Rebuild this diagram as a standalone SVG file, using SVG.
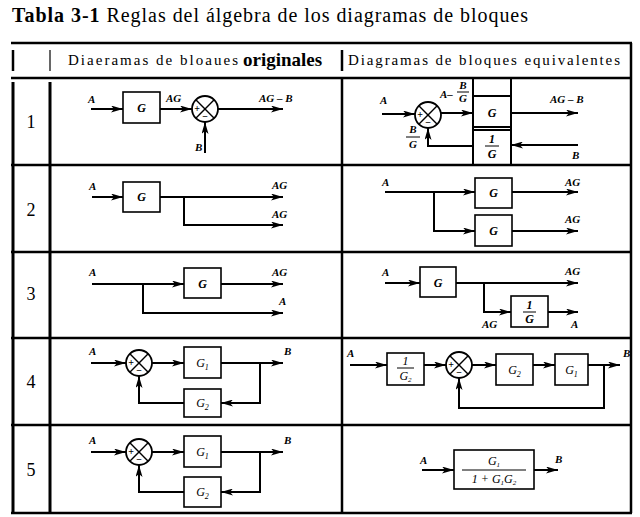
<svg xmlns="http://www.w3.org/2000/svg" xmlns:xlink="http://www.w3.org/1999/xlink" width="640" height="517" viewBox="0 0 640 517">
<style>
.t{font-family:"Liberation Serif","Times New Roman",serif;fill:#000}
.lb{font-family:"Liberation Serif",serif;font-style:italic;font-weight:bold;font-size:11px;fill:#000}
.bx{font-family:"Liberation Serif",serif;font-style:italic;font-size:12px;fill:#000;text-anchor:middle}
.num{font-family:"Liberation Serif",serif;font-size:18px;fill:#000;text-anchor:middle}
.w{stroke:#000;stroke-width:2;fill:none}
.a{stroke:#000;stroke-width:2;fill:none;marker-end:url(#ar)}
.b{stroke:#000;stroke-width:1.6;fill:#fff}
.g{stroke:#000;stroke-width:2.5;fill:none}
.thin{stroke:#000;stroke-width:1.2;fill:none}
</style>
<defs>
<marker id="ar" markerUnits="userSpaceOnUse" markerWidth="12" markerHeight="7" refX="12" refY="3.5" orient="auto">
<path d="M0,0 L12,3.5 L0,7 L3,3.5 z" fill="#000"/>
</marker>
<g id="sum">
<circle cx="0" cy="0" r="13" fill="#fff" stroke="#000" stroke-width="1.8"/>
<line x1="-9.2" y1="-9.2" x2="9.2" y2="9.2" stroke="#000" stroke-width="1.4"/>
<line x1="-9.2" y1="9.2" x2="9.2" y2="-9.2" stroke="#000" stroke-width="1.4"/>
<text x="-8" y="3" class="t" font-size="10" font-weight="bold" text-anchor="middle">+</text>
<text x="0" y="11" class="t" font-size="10" font-weight="bold" text-anchor="middle">−</text>
</g>
</defs>

<g id="title">
<text x="12" y="22" class="t" font-size="20" textLength="516" lengthAdjust="spacing"><tspan font-weight="bold">Tabla 3-1</tspan> Reglas del álgebra de los diagramas de bloques</text>
</g>

<g id="table">
<line x1="11" y1="43" x2="632" y2="43" class="g"/>
<line x1="11" y1="78" x2="632" y2="78" class="g"/>
<line x1="11" y1="165" x2="632" y2="165" class="g"/>
<line x1="11" y1="252" x2="632" y2="252" class="g"/>
<line x1="11" y1="338" x2="632" y2="338" class="g"/>
<line x1="11" y1="425" x2="632" y2="425" class="g"/>
<line x1="11" y1="513" x2="632" y2="513" class="g"/>
<line x1="13" y1="50" x2="13" y2="71" class="g"/>
<line x1="50" y1="50" x2="50" y2="71" class="thin"/>
<line x1="342" y1="50" x2="342" y2="71" class="g"/>
<line x1="13" y1="82" x2="13" y2="513" stroke="#000" stroke-width="3"/>
<line x1="50" y1="82" x2="50" y2="513" stroke="#000" stroke-width="3"/>
<line x1="342" y1="78" x2="342" y2="513" class="g"/>
<line x1="631" y1="43" x2="631" y2="513" class="g"/>
<text x="68" y="65" class="t" font-size="15" textLength="170" lengthAdjust="spacing">Diaeramas de bloaues</text>
<text x="243" y="66" class="t" font-size="19" font-weight="bold">originales</text>
<text x="348" y="65" class="t" font-size="15" textLength="272" lengthAdjust="spacing">Diagramas de bloques equivalentes</text>
<text x="31" y="128" class="num">1</text>
<text x="31" y="216" class="num">2</text>
<text x="31" y="300" class="num">3</text>
<text x="31" y="388" class="num">4</text>
<text x="31" y="476" class="num">5</text>
</g>

<g id="connectors">
<line x1="91" y1="109" x2="123" y2="109" class="a"/>
<line x1="160" y1="109" x2="192" y2="109" class="a"/>
<line x1="218" y1="109" x2="283" y2="109" class="a"/>
<line x1="205" y1="153" x2="205" y2="122" class="a"/>
<line x1="382" y1="114" x2="415" y2="114" class="a"/>
<line x1="441" y1="113" x2="473" y2="113" class="a"/>
<line x1="511" y1="113" x2="578" y2="113" class="a" stroke-width="3"/>
<line x1="578" y1="145" x2="511" y2="145" class="a"/>
<polyline points="473,146 428,146 428,128" class="a"/>
<line x1="92" y1="197" x2="123" y2="197" class="a"/>
<line x1="160" y1="197" x2="283" y2="197" class="a"/>
<polyline points="184,197 184,225 283,225" class="a"/>
<line x1="385" y1="192" x2="475" y2="192" class="a"/>
<polyline points="434,192 434,231 475,231" class="a"/>
<line x1="512" y1="192" x2="578" y2="192" class="a"/>
<line x1="512" y1="231" x2="578" y2="231" class="a"/>
<line x1="92" y1="284" x2="184" y2="284" class="a" stroke-width="3"/>
<line x1="221" y1="284" x2="283" y2="284" class="a"/>
<polyline points="143,284 143,313 283,313" class="a"/>
<line x1="385" y1="283" x2="420" y2="283" class="a"/>
<line x1="456" y1="283" x2="578" y2="283" class="a"/>
<polyline points="484,283 484,312 511,312" class="a"/>
<line x1="548" y1="312" x2="578" y2="312" class="a"/>
<line x1="91" y1="363" x2="126" y2="363" class="a"/>
<line x1="152" y1="363" x2="184" y2="363" class="a"/>
<line x1="221" y1="363" x2="283" y2="363" class="a"/>
<polyline points="260,363 260,403 221,403" class="a"/>
<polyline points="184,403 139,403 139,376" class="a"/>
<line x1="350" y1="365" x2="387" y2="365" class="a"/>
<line x1="424" y1="365" x2="446" y2="365" class="a"/>
<line x1="472" y1="365" x2="496" y2="365" class="a"/>
<line x1="533" y1="365" x2="555" y2="365" class="a"/>
<line x1="588" y1="365" x2="620" y2="365" class="a"/>
<polyline points="604,365 604,408 459,408 459,378" class="a"/>
<line x1="91" y1="452" x2="126" y2="452" class="a"/>
<line x1="152" y1="452" x2="184" y2="452" class="a"/>
<line x1="221" y1="452" x2="283" y2="452" class="a"/>
<polyline points="260,452 260,492 221,492" class="a"/>
<polyline points="184,492 139,492 139,465" class="a"/>
<line x1="422" y1="470" x2="454" y2="470" class="a"/>
<line x1="534" y1="470" x2="558" y2="470" class="a"/>
</g>

<g id="row1-left">
<rect x="123" y="92" width="37" height="31" class="b"/>
<text x="141.5" y="112" class="bx" font-weight="bold">G</text>
<use xlink:href="#sum" x="205" y="109"/>
<text x="88" y="103" class="lb">A</text>
<text x="166" y="102" class="lb">AG</text>
<text x="259" y="102" class="lb">AG – B</text>
<text x="195" y="151" class="lb">B</text>
</g>

<g id="row1-right">
<line x1="473" y1="79" x2="473" y2="165" class="w"/>
<line x1="511" y1="79" x2="511" y2="165" class="w"/>
<line x1="473" y1="96" x2="511" y2="96" class="w"/>
<line x1="473" y1="127" x2="511" y2="127" class="w"/>
<line x1="473" y1="130" x2="511" y2="130" class="w"/>
<text x="492" y="117" class="bx" font-weight="bold">G</text>
<text x="492" y="143" class="bx" font-size="11" font-weight="bold">1</text>
<line x1="485" y1="146" x2="499" y2="146" stroke="#000"/>
<text x="492" y="158" class="bx" font-size="11" font-weight="bold">G</text>
<use xlink:href="#sum" x="428" y="115"/>
<text x="380" y="104" class="lb">A</text>
<text x="440" y="98" class="lb">A–</text>
<text x="463" y="89" class="lb" text-anchor="middle">B</text>
<line x1="457" y1="92" x2="469" y2="92" stroke="#000"/>
<text x="463" y="102" class="lb" text-anchor="middle">G</text>
<text x="413" y="133" class="lb" text-anchor="middle">B</text>
<line x1="406" y1="137" x2="420" y2="137" stroke="#000"/>
<text x="413" y="148" class="lb" text-anchor="middle">G</text>
<text x="550" y="103" class="lb">AG – B</text>
<text x="572" y="159" class="lb">B</text>
</g>

<g id="row2-left">
<rect x="123" y="182" width="37" height="30" class="b"/>
<text x="141.5" y="201" class="bx" font-weight="bold">G</text>
<text x="89" y="190" class="lb">A</text>
<text x="272" y="189" class="lb">AG</text>
<text x="272" y="218" class="lb">AG</text>
</g>

<g id="row2-right">
<rect x="475" y="178" width="37" height="30" class="b"/>
<text x="493.5" y="197" class="bx" font-weight="bold">G</text>
<rect x="475" y="215" width="37" height="31" class="b"/>
<text x="493.5" y="235" class="bx" font-weight="bold">G</text>
<text x="382" y="186" class="lb">A</text>
<text x="565" y="186" class="lb">AG</text>
<text x="565" y="223" class="lb">AG</text>
</g>

<g id="row3-left">
<rect x="184" y="268" width="37" height="30" class="b"/>
<text x="202.5" y="288" class="bx" font-weight="bold">G</text>
<text x="89" y="276" class="lb">A</text>
<text x="272" y="276" class="lb">AG</text>
<text x="279" y="305" class="lb">A</text>
</g>

<g id="row3-right">
<rect x="420" y="267" width="36" height="30" class="b"/>
<text x="438" y="287" class="bx" font-weight="bold">G</text>
<rect x="511" y="296" width="37" height="31" class="b"/>
<text x="529.5" y="309" class="bx" font-size="11" font-weight="bold">1</text>
<line x1="523" y1="312" x2="536" y2="312" stroke="#000"/>
<text x="529.5" y="323" class="bx" font-size="11" font-weight="bold">G</text>
<text x="382" y="276" class="lb">A</text>
<text x="565" y="275" class="lb">AG</text>
<text x="482" y="328" class="lb">AG</text>
<text x="571" y="328" class="lb">A</text>
</g>

<g id="row4-left">
<use xlink:href="#sum" x="139" y="363"/>
<rect x="184" y="347" width="37" height="31" class="b"/>
<text x="202.5" y="367" class="bx">G<tspan font-size="8" dy="3">1</tspan></text>
<rect x="184" y="389" width="37" height="28" class="b"/>
<text x="202.5" y="407" class="bx">G<tspan font-size="8" dy="3">2</tspan></text>
<text x="89" y="355" class="lb">A</text>
<text x="284" y="355" class="lb">B</text>
</g>

<g id="row4-right">
<rect x="387" y="353" width="37" height="32" class="b"/>
<text x="405.5" y="365" class="bx" font-size="11">1</text>
<line x1="397" y1="368" x2="414" y2="368" stroke="#000"/>
<text x="405.5" y="380" class="bx" font-size="11">G<tspan font-size="7" dy="2">2</tspan></text>
<use xlink:href="#sum" x="459" y="365"/>
<rect x="496" y="354" width="37" height="31" class="b"/>
<text x="514.5" y="374" class="bx">G<tspan font-size="8" dy="3">2</tspan></text>
<rect x="555" y="354" width="33" height="31" class="b"/>
<text x="571.5" y="374" class="bx">G<tspan font-size="8" dy="3">1</tspan></text>
<text x="347" y="357" class="lb">A</text>
<text x="623" y="357" class="lb">B</text>
</g>

<g id="row5-left">
<use xlink:href="#sum" x="139" y="452"/>
<rect x="184" y="436" width="37" height="31" class="b"/>
<text x="202.5" y="456" class="bx">G<tspan font-size="8" dy="3">1</tspan></text>
<rect x="184" y="477" width="37" height="30" class="b"/>
<text x="202.5" y="496" class="bx">G<tspan font-size="8" dy="3">2</tspan></text>
<text x="89" y="444" class="lb">A</text>
<text x="284" y="444" class="lb">B</text>
</g>

<g id="row5-right">
<rect x="454" y="450" width="80" height="39" class="b"/>
<text x="494" y="465" class="bx" font-size="11">G<tspan font-size="7" dy="2">1</tspan></text>
<line x1="462" y1="470" x2="526" y2="470" stroke="#000"/>
<text x="494" y="483" class="bx" font-size="11" font-style="normal">1 + <tspan font-style="italic">G</tspan><tspan font-size="7" dy="2">1</tspan><tspan font-style="italic" dy="-2">G</tspan><tspan font-size="7" dy="2">2</tspan></text>
<text x="420" y="464" class="lb">A</text>
<text x="555" y="463" class="lb">B</text>
</g>
</svg>
